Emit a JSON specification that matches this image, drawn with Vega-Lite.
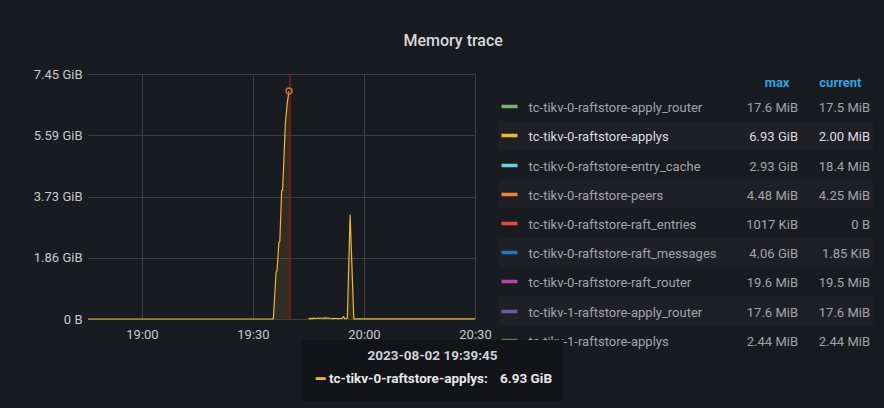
{
  "$schema": "https://vega.github.io/schema/vega-lite/v6.json",
  "background": "#181b1f",
  "padding": {"left": 33, "top": 33, "right": 12, "bottom": 7},
  "autosize": {"type": "pad"},
  "config": {
    "font": "Roboto",
    "view": {"stroke": null},
    "axis": {"labelFont": "Roboto", "titleFont": "Roboto"},
    "text": {"font": "Roboto"}
  },
  "title": {
    "text": "Memory trace",
    "anchor": "middle",
    "fontSize": 16,
    "fontWeight": 500,
    "color": "#d8d9de",
    "offset": 19
  },
  "datasets": {
    "applys": [
      {"t": "2023-08-02T18:45:25", "v": 0, "seg": "a"},
      {"t": "2023-08-02T19:00:00", "v": 0, "seg": "a"},
      {"t": "2023-08-02T19:15:00", "v": 0, "seg": "a"},
      {"t": "2023-08-02T19:30:00", "v": 0, "seg": "a"},
      {"t": "2023-08-02T19:35:30", "v": 0, "seg": "a"},
      {"t": "2023-08-02T19:36:15", "v": 1.42, "seg": "a"},
      {"t": "2023-08-02T19:36:30", "v": 1.47, "seg": "a"},
      {"t": "2023-08-02T19:37:00", "v": 2.33, "seg": "a"},
      {"t": "2023-08-02T19:37:15", "v": 2.35, "seg": "a"},
      {"t": "2023-08-02T19:37:45", "v": 3.90, "seg": "a"},
      {"t": "2023-08-02T19:38:00", "v": 3.92, "seg": "a"},
      {"t": "2023-08-02T19:38:30", "v": 5.25, "seg": "a"},
      {"t": "2023-08-02T19:38:45", "v": 5.95, "seg": "a"},
      {"t": "2023-08-02T19:39:00", "v": 6.25, "seg": "a"},
      {"t": "2023-08-02T19:39:15", "v": 6.55, "seg": "a"},
      {"t": "2023-08-02T19:39:30", "v": 6.75, "seg": "a"},
      {"t": "2023-08-02T19:39:45", "v": 6.93, "seg": "a"},
      {"t": "2023-08-02T19:45:00", "v": 0.01, "seg": "b"},
      {"t": "2023-08-02T19:45:30", "v": 0.02, "seg": "b"},
      {"t": "2023-08-02T19:46:00", "v": 0.01, "seg": "b"},
      {"t": "2023-08-02T19:46:30", "v": 0.025, "seg": "b"},
      {"t": "2023-08-02T19:47:00", "v": 0.015, "seg": "b"},
      {"t": "2023-08-02T19:47:30", "v": 0.03, "seg": "b"},
      {"t": "2023-08-02T19:48:00", "v": 0.02, "seg": "b"},
      {"t": "2023-08-02T19:48:30", "v": 0.03, "seg": "b"},
      {"t": "2023-08-02T19:49:00", "v": 0.02, "seg": "b"},
      {"t": "2023-08-02T19:49:30", "v": 0.035, "seg": "b"},
      {"t": "2023-08-02T19:50:00", "v": 0.025, "seg": "b"},
      {"t": "2023-08-02T19:50:30", "v": 0.03, "seg": "b"},
      {"t": "2023-08-02T19:51:00", "v": 0.015, "seg": "b"},
      {"t": "2023-08-02T19:51:30", "v": 0.01, "seg": "b"},
      {"t": "2023-08-02T19:52:00", "v": 0.02, "seg": "b"},
      {"t": "2023-08-02T19:52:30", "v": 0.015, "seg": "b"},
      {"t": "2023-08-02T19:53:00", "v": 0.01, "seg": "b"},
      {"t": "2023-08-02T19:53:30", "v": 0.015, "seg": "b"},
      {"t": "2023-08-02T19:54:00", "v": 0.02, "seg": "b"},
      {"t": "2023-08-02T19:54:30", "v": 0.07, "seg": "b"},
      {"t": "2023-08-02T19:54:45", "v": 0.015, "seg": "b"},
      {"t": "2023-08-02T19:55:15", "v": 0.02, "seg": "b"},
      {"t": "2023-08-02T19:55:30", "v": 0.03, "seg": "b"},
      {"t": "2023-08-02T19:56:15", "v": 3.17, "seg": "b"},
      {"t": "2023-08-02T19:57:15", "v": 0.01, "seg": "b"},
      {"t": "2023-08-02T19:57:30", "v": 0.002, "seg": "b"},
      {"t": "2023-08-02T20:15:00", "v": 0.002, "seg": "b"},
      {"t": "2023-08-02T20:30:00", "v": 0.002, "seg": "b"}
    ],
    "annotation": [{"t": "2023-08-02T19:40:00"}],
    "hover": [{"t": "2023-08-02T19:39:45", "v": 6.93}],
    "legend": [
      {"name": "tc-tikv-0-raftstore-apply_router", "max": "17.6 MiB", "current": "17.5 MiB"},
      {"name": "tc-tikv-0-raftstore-applys", "max": "6.93 GiB", "current": "2.00 MiB"},
      {"name": "tc-tikv-0-raftstore-entry_cache", "max": "2.93 GiB", "current": "18.4 MiB"},
      {"name": "tc-tikv-0-raftstore-peers", "max": "4.48 MiB", "current": "4.25 MiB"},
      {"name": "tc-tikv-0-raftstore-raft_entries", "max": "1017 KiB", "current": "0 B"},
      {"name": "tc-tikv-0-raftstore-raft_messages", "max": "4.06 GiB", "current": "1.85 KiB"},
      {"name": "tc-tikv-0-raftstore-raft_router", "max": "19.6 MiB", "current": "19.5 MiB"},
      {"name": "tc-tikv-1-raftstore-apply_router", "max": "17.6 MiB", "current": "17.6 MiB"},
      {"name": "tc-tikv-1-raftstore-applys", "max": "2.44 MiB", "current": "2.44 MiB"}
    ],
    "tooltip": [
      {"time": "2023-08-02 19:39:45", "label": "tc-tikv-0-raftstore-applys:", "value": "6.93 GiB"}
    ]
  },
  "concat": [
    {
      "width": 387,
      "height": 245,
      "layer": [
        {
          "data": {"name": "applys"},
          "mark": {"type": "area", "color": "#EAB839", "opacity": 0.12},
          "encoding": {
            "x": {"field": "t", "type": "temporal"},
            "y": {"field": "v", "type": "quantitative", "stack": null},
            "detail": {"field": "seg"}
          }
        },
        {
          "data": {"name": "applys"},
          "mark": {"type": "line", "color": "#EAB839", "strokeWidth": 1.2},
          "encoding": {
            "x": {
              "field": "t",
              "type": "temporal",
              "scale": {
                "domain": [
                  {"year": 2023, "month": 8, "date": 2, "hours": 18, "minutes": 45, "seconds": 25},
                  {"year": 2023, "month": 8, "date": 2, "hours": 20, "minutes": 30}
                ],
                "nice": false
              },
              "axis": {
                "title": null,
                "format": "%H:%M",
                "values": [
                  {"year": 2023, "month": 8, "date": 2, "hours": 19, "minutes": 0},
                  {"year": 2023, "month": 8, "date": 2, "hours": 19, "minutes": 30},
                  {"year": 2023, "month": 8, "date": 2, "hours": 20, "minutes": 0},
                  {"year": 2023, "month": 8, "date": 2, "hours": 20, "minutes": 30}
                ],
                "labelFlush": false,
                "labelOverlap": false,
                "domain": false,
                "ticks": false,
                "grid": true,
                "gridColor": "#3d3f44",
                "gridWidth": 1,
                "labelColor": "#c8c9ce",
                "labelFontSize": 13,
                "labelPadding": 9
              }
            },
            "y": {
              "field": "v",
              "type": "quantitative",
              "stack": null,
              "scale": {"domain": [0, 7.4506], "nice": false, "zero": true},
              "axis": {
                "title": null,
                "values": [0, 1.8626, 3.7253, 5.5879, 7.4506],
                "labelExpr": "datum.value == 0 ? '0 B' : format(datum.value, '.2f') + ' GiB'",
                "domain": false,
                "ticks": false,
                "grid": true,
                "gridColor": "#3d3f44",
                "gridWidth": 1,
                "labelColor": "#c8c9ce",
                "labelFontSize": 13,
                "labelPadding": 6
              }
            },
            "detail": {"field": "seg"}
          }
        },
        {
          "data": {"name": "annotation"},
          "mark": {"type": "rule", "color": "#8e1b1b", "strokeWidth": 1.5},
          "encoding": {"x": {"field": "t", "type": "temporal"}}
        },
        {
          "data": {"name": "hover"},
          "mark": {"type": "point", "shape": "circle", "size": 36, "filled": false, "stroke": "#b5782f", "strokeWidth": 1.5, "opacity": 1},
          "encoding": {
            "x": {"field": "t", "type": "temporal"},
            "y": {"field": "v", "type": "quantitative"}
          }
        }
      ]
    },
    {
      "width": 374,
      "height": 266,
      "data": {"name": "legend"},
      "layer": [
        {
          "transform": [
            {"window": [{"op": "row_number", "as": "rn"}]},
            {"filter": "datum.rn % 2 == 0"}
          ],
          "mark": {"type": "rect", "color": "#1e2025"},
          "encoding": {
            "y": {"field": "name", "type": "nominal", "sort": null}
          }
        },
        {
          "transform": [{"fold": ["max", "current"], "as": ["col", "val"]}],
          "mark": {"type": "text", "align": "right", "baseline": "middle", "fontSize": 13, "dy": 1.5},
          "encoding": {
            "x": {
              "field": "col",
              "type": "nominal",
              "sort": null,
              "scale": {"domain": ["max", "current"], "range": [263, 407], "paddingInner": 0, "paddingOuter": 0},
              "axis": {
                "orient": "top",
                "title": null,
                "domain": false,
                "ticks": false,
                "labelAlign": "right",
                "labelOffset": -9,
                "labelBaseline": "middle",
                "labelPadding": -8,
                "labelAngle": 0,
                "labelColor": "#33a2e5",
                "labelFontWeight": "bold",
                "labelFontSize": 13
              }
            },
            "y": {
              "field": "name",
              "type": "nominal",
              "sort": null,
              "scale": {
                "domain": [
                  "tc-tikv-0-raftstore-apply_router",
                  "tc-tikv-0-raftstore-applys",
                  "tc-tikv-0-raftstore-entry_cache",
                  "tc-tikv-0-raftstore-peers",
                  "tc-tikv-0-raftstore-raft_entries",
                  "tc-tikv-0-raftstore-raft_messages",
                  "tc-tikv-0-raftstore-raft_router",
                  "tc-tikv-1-raftstore-apply_router",
                  "tc-tikv-1-raftstore-applys"
                ],
                "range": [18, 280.8],
                "paddingInner": 0,
                "paddingOuter": 0
              },
              "axis": {
                "orient": "left",
                "title": null,
                "domain": false,
                "offset": -18,
                "ticks": true,
                "tickSize": 16,
                "tickWidth": 3.5,
                "tickColor": {
                  "condition": [
                    {"test": "datum.value == 'tc-tikv-0-raftstore-apply_router'", "value": "#7EB26D"},
                    {"test": "datum.value == 'tc-tikv-0-raftstore-applys'", "value": "#EAB839"},
                    {"test": "datum.value == 'tc-tikv-0-raftstore-entry_cache'", "value": "#6ED0E0"},
                    {"test": "datum.value == 'tc-tikv-0-raftstore-peers'", "value": "#EF843C"},
                    {"test": "datum.value == 'tc-tikv-0-raftstore-raft_entries'", "value": "#E24D42"},
                    {"test": "datum.value == 'tc-tikv-0-raftstore-raft_messages'", "value": "#1F78C1"},
                    {"test": "datum.value == 'tc-tikv-0-raftstore-raft_router'", "value": "#BA43A9"},
                    {"test": "datum.value == 'tc-tikv-1-raftstore-apply_router'", "value": "#705DA0"}
                  ],
                  "value": "#508642"
                },
                "labelAlign": "left",
                "labelBaseline": "middle",
                "labelPadding": -27,
                "labelOffset": 1.5,
                "labelLimit": 0,
                "labelFontSize": 13,
                "labelColor": {
                  "condition": {"test": "datum.value == 'tc-tikv-0-raftstore-applys'", "value": "#dcdde2"},
                  "value": "#a3a4aa"
                }
              }
            },
            "text": {"field": "val"},
            "color": {
              "condition": {"test": "datum.name == 'tc-tikv-0-raftstore-applys'", "value": "#dcdde2"},
              "value": "#a3a4aa"
            }
          }
        }
      ]
    },
    {
      "hconcat": [
        {
          "width": 214,
          "height": 61,
          "data": {"values": []},
          "mark": {"type": "text"},
          "encoding": {}
        },
        {
          "width": 261,
          "height": 61,
          "view": {"fill": "#131417", "stroke": null},
          "data": {"name": "tooltip"},
          "layer": [
            {
              "mark": {"type": "text", "align": "center", "baseline": "middle", "dy": -14.5, "fontSize": 13.5, "fontWeight": "bold", "color": "#d0d1d6"},
              "encoding": {"text": {"field": "time"}}
            },
            {
              "mark": {"type": "text", "align": "center", "baseline": "middle", "dx": -112, "dy": 8.5, "fontSize": 16, "font": "DejaVu Sans", "color": "#EAB839"},
              "encoding": {"text": {"value": "━"}}
            },
            {
              "mark": {"type": "text", "align": "left", "baseline": "middle", "dx": -103.5, "dy": 8.5, "fontSize": 13.5, "fontWeight": "bold", "color": "#e6e7ea"},
              "encoding": {"text": {"field": "label"}}
            },
            {
              "mark": {"type": "text", "align": "right", "baseline": "middle", "dx": 119.5, "dy": 8.5, "fontSize": 13.5, "fontWeight": "bold", "color": "#e6e7ea"},
              "encoding": {"text": {"field": "value"}}
            }
          ]
        }
      ],
      "spacing": 0,
      "bounds": "flush"
    }
  ],
  "columns": 2,
  "bounds": "flush",
  "spacing": {"row": 0, "column": 24}
}
